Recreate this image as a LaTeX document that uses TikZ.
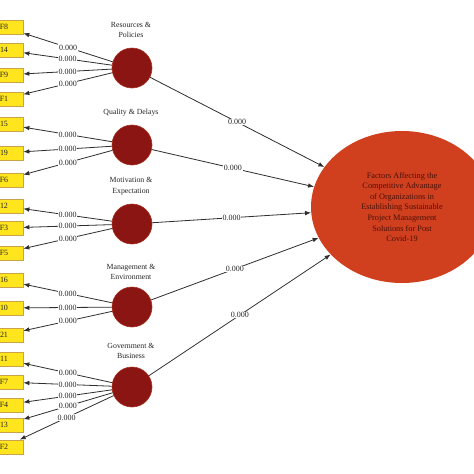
\documentclass[tikz,border=0pt]{standalone}
\usepackage{fontspec}
\setmainfont{Liberation Serif}
\usetikzlibrary{arrows.meta,shapes.geometric}
\definecolor{boxfill}{HTML}{FFE51E}
\definecolor{boxdraw}{HTML}{C9A24A}
\definecolor{circfill}{HTML}{8A1512}
\definecolor{circdraw}{HTML}{A8301E}
\definecolor{ellfill}{HTML}{D0401F}
\definecolor{elltext}{HTML}{4A1008}
\definecolor{linecol}{HTML}{2E2E2E}
\tikzset{
  indbox/.style={draw=boxdraw, fill=boxfill, line width=0.7pt, minimum width=38pt, minimum height=14pt, inner sep=0pt, font=\fontsize{8}{8}\selectfont, text=black!85},
  latent/.style={circle, draw=circdraw, fill=circfill, line width=0.6pt, minimum size=40pt, inner sep=0pt},
  target/.style={ellipse, fill=ellfill, minimum width=182pt, minimum height=152pt, inner sep=0pt, align=center, text=elltext, font=\fontsize{8.3}{10.6}\selectfont},
  captext/.style={align=center, font=\fontsize{7.8}{10.8}\selectfont, text=black!85},
  conn/.style={draw=linecol, line width=0.8pt, -{Latex[length=6pt,width=4.6pt]}},
  val/.style={fill=white, inner sep=0.6pt, font=\fontsize{8}{8}\selectfont, text=black!85}
}
\begin{document}
\begin{tikzpicture}[x=1pt,y=-1pt]
\useasboundingbox[fill=white] (0,0) rectangle (474,474);
% indicator boxes
\node[indbox] (b1) at (4,27) {F8};
\node[indbox] (b2) at (4,50) {14};
\node[indbox] (b3) at (4,75) {F9};
\node[indbox] (b4) at (4,99) {F1};
\node[indbox] (b5) at (4,124) {15};
\node[indbox] (b6) at (4,153) {19};
\node[indbox] (b7) at (4,180) {F6};
\node[indbox] (b8) at (4,206) {12};
\node[indbox] (b9) at (4,228) {F3};
\node[indbox] (b10) at (4,253) {F5};
\node[indbox] (b11) at (4,280) {16};
\node[indbox] (b12) at (4,308) {10};
\node[indbox] (b13) at (4,335) {21};
\node[indbox] (b14) at (4,359) {11};
\node[indbox] (b15) at (4,382) {F7};
\node[indbox] (b16) at (4,405) {F4};
\node[indbox] (b17) at (4,425) {13};
\node[indbox] (b18) at (4,447) {F2};
% latent circles
\node[latent] (c1) at (132,68) {};
\node[latent] (c2) at (132,145) {};
\node[latent] (c3) at (132,224) {};
\node[latent] (c4) at (132,307) {};
\node[latent] (c5) at (132,387) {};
% captions
\node[captext] (l1) at (131,30) {Resources \&\\Policies};
\node[captext] (l2) at (131,113) {Quality \& Delays};
\node[captext] (l3) at (131,186) {Motivation \&\\Expectation};
\node[captext] (l4) at (131,272) {Management \&\\Environment};
\node[captext] (l5) at (131,351) {Government \&\\Business};
% target
\node[target] (t) at (402,207) {Factors Affecting the\\Competitive Advantage\\of Organizations in\\Establishing Sustainable\\Project Management\\Solutions for Post\\Covid-19};
% loadings
\foreach \c/\b in {c1/b1,c1/b2,c1/b3,c1/b4,c2/b5,c2/b6,c2/b7,c3/b8,c3/b9,c3/b10,c4/b11,c4/b12,c4/b13,c5/b14,c5/b15,c5/b16,c5/b17,c5/b18}
  \draw[conn] (\c) -- node[val] {0.000} (\b);
% paths
\foreach \c in {c1,c2,c3,c4,c5}
  \draw[conn] (\c) -- node[val] {0.000} (t);
\end{tikzpicture}
\end{document}
